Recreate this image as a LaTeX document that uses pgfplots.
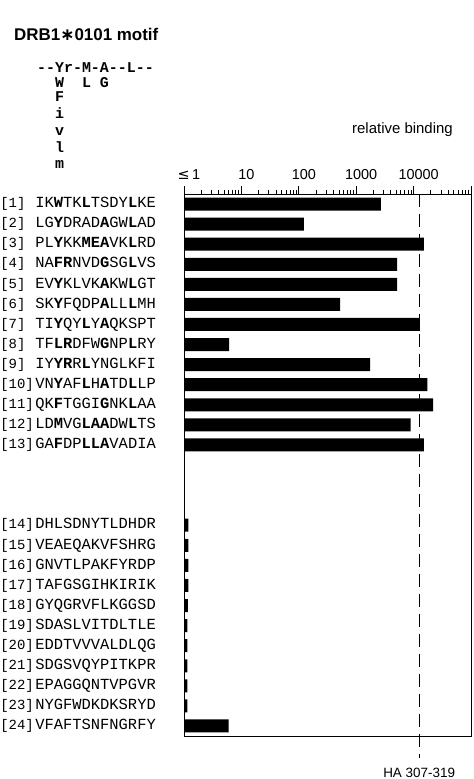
\documentclass[border=0pt]{standalone}
\usepackage{fontspec}
\setmainfont{Liberation Sans}
\setmonofont{Liberation Mono}
\newfontfamily\dejavu{DejaVu Sans}
\usepackage{pgfplots}
\pgfplotsset{compat=1.18}
\usepackage{pgfplotstable}

% relative binding per peptide, pos = row on the y axis
\pgfplotstableread{
pos val
1  2700
2  123
3  15100
4  5150
5  5150
6  525
7  12900
8  6.1
9  1740
10 17300
11 21900
12 8900
13 15100
17 1.19
18 1.19
19 1.19
20 1.19
21 1.17
22 1.15
23 1.15
24 1.15
25 1.15
26 1.14
27 6.0
}\binding

\newcommand{\pep}[2]{\makebox[35bp][l]{\fontsize{14}{16}\selectfont[#1]}#2}
\newcommand{\B}[1]{\textbf{#1}}
\newcommand{\sk}{\hphantom{-}}

\begin{document}
\begin{tikzpicture}
\path[use as bounding box] (0,0) rectangle (474bp,-779bp);

% heading and motif
\node[anchor=base west, inner sep=0pt, font=\bfseries\fontsize{17}{20}\selectfont]
  at (14bp,-40bp) {DRB1{\dejavu\bfseries ∗}0101 motif};
\begin{scope}[every node/.style={anchor=base west, inner sep=0pt,
    font=\ttfamily\bfseries\fontsize{15}{16}\selectfont}]
\node at (37bp,-72bp)  {--Yr-M-A--L--};
\node at (37bp,-87bp)  {\sk\sk W\sk\sk L\sk G};
\node at (37bp,-101bp) {\sk\sk F};
\node at (37bp,-118bp) {\sk\sk i};
\node at (37bp,-135bp) {\sk\sk v};
\node at (37bp,-152bp) {\sk\sk l};
\node at (37bp,-168bp) {\sk\sk m};
\end{scope}
\node[anchor=base west, inner sep=0pt, font=\fontsize{15}{18}\selectfont]
  at (352bp,-133bp) {relative binding};

\begin{axis}[
  at={(184bp,-194bp)}, anchor=north west,
  width=287bp, height=542bp, scale only axis,
  xmode=log, xmin=1, xmax=100000,
  ymin=0.5, ymax=27.5, y dir=reverse,
  clip=false,
  axis line style={line width=1pt},
  xtick={1,10,100,1000,10000,100000},
  xticklabels={{{\dejavu ≤}\,1},10,100,1000,10000,},
  minor xtick={2,3,4,5,6,7,8,9,20,30,40,50,60,70,80,90,200,300,400,500,600,700,800,900,2000,3000,4000,5000,6000,7000,8000,9000,20000,30000,40000,50000,60000,70000,80000,90000},
  xtick pos=right, xticklabel pos=right,
  tick align=outside,
  major tick length=8bp, minor tick length=4bp,
  tick style={black, line width=0.8pt},
  xticklabel style={font=\fontsize{14.5}{16}\selectfont, xshift=5bp, inner sep=0pt, yshift=6bp},
  ytick={1,2,3,4,5,6,7,8,9,10,11,12,13,17,18,19,20,21,22,23,24,25,26,27},
  ytick style={draw=none},
  yticklabel style={anchor=east, inner sep=0pt, xshift=-20bp,
    font=\ttfamily\fontsize{15.5}{16}\selectfont},
  yticklabels={
    {\pep{1}{IK\B{W}TK\B{L}TSDY\B{L}KE}},
    {\pep{2}{LG\B{Y}DRAD\B{A}GW\B{L}AD}},
    {\pep{3}{PL\B{Y}KK\B{MEA}VK\B{L}RD}},
    {\pep{4}{NA\B{FR}NVD\B{G}SG\B{L}VS}},
    {\pep{5}{EV\B{Y}KLVK\B{A}KW\B{L}GT}},
    {\pep{6}{SK\B{Y}FQDP\B{A}LL\B{L}MH}},
    {\pep{7}{TI\B{Y}QY\B{L}Y\B{A}QKSPT}},
    {\pep{8}{TF\B{LR}DFW\B{G}NP\B{L}RY}},
    {\pep{9}{IY\B{YR}R\B{L}YNGLKFI}},
    {\pep{10}{VN\B{Y}AF\B{L}H\B{A}TD\B{L}LP}},
    {\pep{11}{QK\B{F}TGGI\B{G}NK\B{L}AA}},
    {\pep{12}{LD\B{M}VG\B{LAA}DW\B{L}TS}},
    {\pep{13}{GA\B{F}DP\B{LLA}VADIA}},
    {\pep{14}{DHLSDNYTLDHDR}},
    {\pep{15}{VEAEQAKVFSHRG}},
    {\pep{16}{GNVTLPAKFYRDP}},
    {\pep{17}{TAFGSGIHKIRIK}},
    {\pep{18}{GYQGRVFLKGGSD}},
    {\pep{19}{SDASLVITDLTLE}},
    {\pep{20}{EDDTVVVALDLQG}},
    {\pep{21}{SDGSVQYPITKPR}},
    {\pep{22}{EPAGGQNTVPGVR}},
    {\pep{23}{NYGFWDKDKSRYD}},
    {\pep{24}{VFAFTSNFNGRFY}},
  },
]
% HA 307-319 reference level
\addplot[black, line width=1.3pt, dash pattern=on 13bp off 7bp, no markers]
  coordinates {(12500,0.5) (12500,28.6)};
\addplot[xbar, bar width=13bp, fill=black, draw=none]
  table[x=val, y=pos] {\binding};
\node[anchor=base, inner sep=0pt, font=\fontsize{13.5}{16}\selectfont]
  at (axis cs:12500,29.55) {HA 307-319};
\end{axis}
\end{tikzpicture}
\end{document}
